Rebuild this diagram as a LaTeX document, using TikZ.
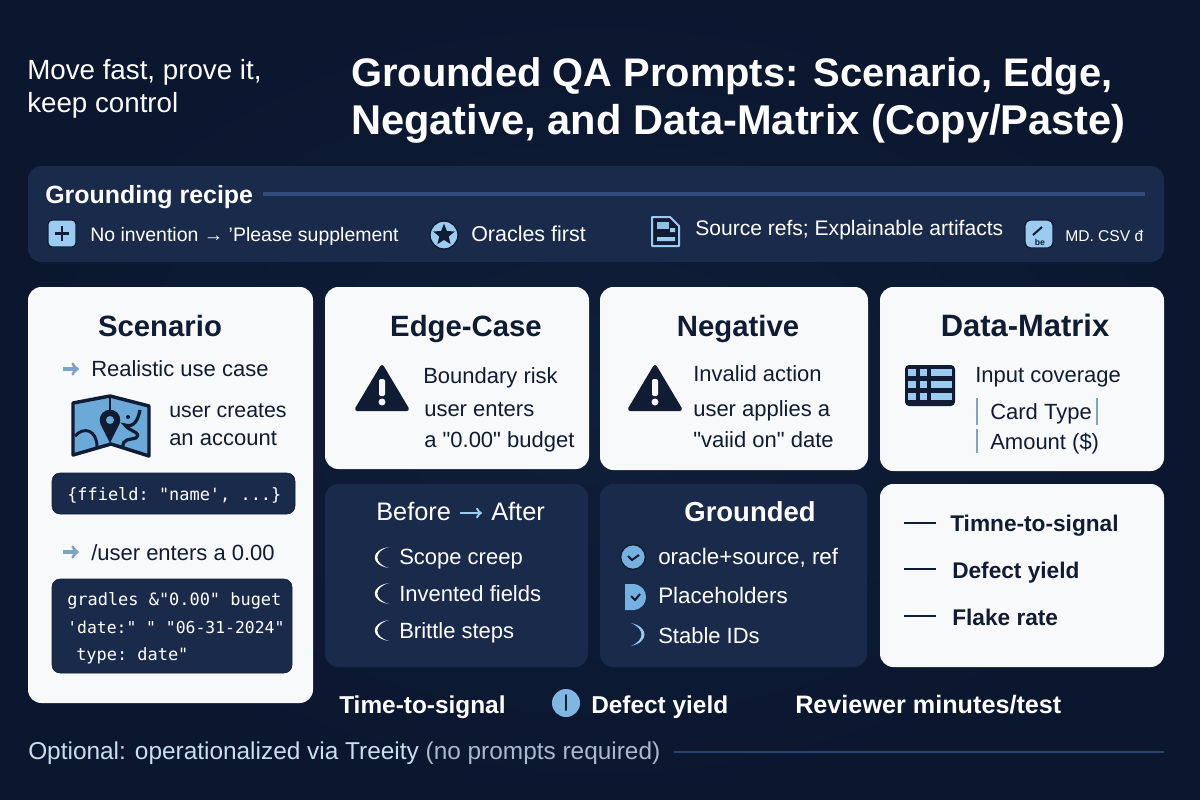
\documentclass[tikz,border=0pt]{standalone}
\usepackage{fontspec}
\setmainfont[Ligatures=TeXOff]{Liberation Sans}
\setmonofont{DejaVu Sans Mono}
\usetikzlibrary{shapes.geometric}
\definecolor{bgin}{HTML}{0F1E3A}
\definecolor{bgout}{HTML}{0B172F}
\definecolor{panel}{HTML}{1A2A4B}
\definecolor{cardwhite}{HTML}{F8F9FA}
\definecolor{ink}{HTML}{101C33}
\definecolor{sky}{HTML}{9CCBF2}
\definecolor{mapblue}{HTML}{6BA9D9}
\definecolor{steel}{HTML}{7FA3C7}
\definecolor{rule}{HTML}{2F4D7F}
\definecolor{faint}{HTML}{C9DFEC}
\definecolor{dimtxt}{HTML}{A9BACB}
\newcommand{\px}[1]{\fontsize{#1}{#1}\selectfont}
\tikzset{
  card/.style={fill=cardwhite, rounded corners=10pt},
  darkpanel/.style={fill=panel, rounded corners=10pt},
  codebox/.style={fill=panel, draw=ink, rounded corners=6pt},
  txt/.style={anchor=base west, inner sep=0pt, text=ink},
  lighttxt/.style={anchor=base west, inner sep=0pt, text=white},
  cardhead/.style={anchor=base, inner sep=0pt, text=ink, font=\px{22}\bfseries},
  body/.style={txt, font=\px{16.5}},
  lightbody/.style={lighttxt, font=\px{16.5}},
  code/.style={lighttxt, font=\px{12.7}\ttfamily},
  icon/.style={fill=sky, draw=ink, line width=1pt},
  arrowicon/.style={->, steel, line width=2.4pt},
  crescent/.style={fill=white},
  bar/.style={steel, line width=1.5pt},
  warn/.style={fill=ink, draw=ink, line width=3pt, line join=round},
  dashline/.style={ink, line width=1.3pt}
}
\begin{document}
\begin{tikzpicture}[x=0.75pt, y=-0.75pt]
  \useasboundingbox (0, 0) rectangle (1200, 800);
  \shade [inner color=bgin, outer color=bgout] (0, 0) rectangle (1200, 800);
  % header
  \node [lighttxt, font=\px{20.8}] (motto1) at (27, 79) {Move fast, prove it,};
  \node [lighttxt, font=\px{20.8}] (motto2) at (27, 112) {keep control};
  \node [lighttxt, font=\px{29.9}\bfseries] (title1) at (351, 86) {Grounded QA Prompts: Scenario, Edge,};
  \node [lighttxt, font=\px{31.2}\bfseries] (title2) at (351, 134) {Negative, and Data-Matrix (Copy/Paste)};
  % recipe
  \fill [darkpanel] (28, 166) rectangle (1164, 262);
  \node [lighttxt, font=\px{18.7}\bfseries] (recipe) at (45, 203) {Grounding recipe};
  \coordinate (recipeend) at (1145, 194);
  \draw [rule, line width=2.6pt] (recipe.east |- recipeend) ++(10, 0) -- (recipeend);
  \draw [icon, rounded corners=3pt] (48, 220) rectangle (76, 247);
  \draw [ink, line width=2pt] (62, 226) -- (62, 241) (55, 233.5) -- (69, 233.5);
  \node [lighttxt, font=\px{14.6}] (noinvent) at (90, 241) {No invention → ’Please supplement};
  \node [icon, circle, minimum size=21pt, inner sep=0pt] (staricon) at (444, 235) {};
  \node [star, star points=5, star point ratio=2.3, fill=ink, minimum size=17pt, inner sep=0pt] (starglyph) at (444, 235) {};
  \node [lighttxt, font=\px{16.1}] (oracles) at (471, 241) {Oracles first};
  \draw [fill=ink, draw=sky, line width=1.5pt, line join=round] (652, 217) -- (670, 217) -- (679, 226) -- (679, 246) -- (652, 246) -- cycle;
  \fill [sky!70!steel] (657, 222) rectangle (669, 229);
  \fill [sky] (657, 237) rectangle (675, 241) (670, 228) rectangle (675, 232);
  \node [lighttxt, font=\px{15.8}] (sources) at (695, 235) {Source refs; Explainable artifacts};
  \draw [icon, rounded corners=4pt] (1025, 220) rectangle (1053, 248);
  \draw [ink, line width=1.5pt] (1033, 235) -- (1042, 227);
  \node [anchor=base, inner sep=0pt, text=ink, font=\px{6.5}\bfseries] (beglyph) at (1040, 245) {be};
  \node [lighttxt, font=\px{11.7}] (formats) at (1065, 241) {MD. CSV \char"0111};
  % scenario column
  \fill [card] (28, 287) rectangle (313, 703);
  \node [cardhead] (scenario) at (160, 336) {Scenario};
  \draw [arrowicon] (63, 369) -- (79, 369);
  \node [body] (usecase) at (91, 376) {Realistic use case};
  \draw [fill=mapblue, draw=ink, line width=2.6pt, line join=round] (73, 403) -- (110, 396) -- (149, 406) -- (149, 456) -- (111, 444) -- (73, 455) -- cycle;
  \draw [ink, line width=1.5pt] (110, 396) -- (110, 412);
  \draw [ink, line width=2.2pt] (75, 436) .. controls (84, 426) and (97, 430) .. (97, 447);
  \draw [ink, line width=2.4pt] (140, 410) .. controls (138, 420) and (134, 428) .. (125, 425) .. controls (130, 432) and (142, 432) .. (136, 438) .. controls (130, 440) and (122, 438) .. (123, 448);
  \fill [ink] (110, 443) -- (100.5, 424) arc (157:383:10.3) -- cycle;
  \fill [mapblue] (110, 420) circle (3pt);
  \fill [ink] (128, 417) circle (1.5pt);
  \node [body, font=\px{16}] (creates1) at (169, 417) {user creates};
  \node [body] (creates2) at (169, 445) {an account};
  \draw [codebox] (52, 473) rectangle (295, 514);
  \node [code] (codefield) at (67, 500) {\{ffield: "name', ...\}};
  \draw [arrowicon] (63, 552) -- (79, 552);
  \node [body] (enters) at (91, 560) {/user enters a 0.00};
  \draw [codebox] (52, 579) rectangle (292, 673);
  \node [code] (gradles) at (67, 605) {gradles \&"0.00" buget};
  \node [code, font=\px{12.3}\ttfamily] (datekey) at (67, 633) {'date:" " "06-31-2024"};
  \node [code] (typekey) at (76, 660) {type: date"};
  % edge case
  \fill [card] (325, 287) rectangle (589, 469);
  \node [cardhead] (edgecase) at (466, 336) {Edge-Case};
  \draw [warn] (382, 367) -- (357, 409) -- (407, 409) -- cycle;
  \fill [cardwhite, rounded corners=1.5pt] (379, 379) rectangle (385, 396);
  \fill [cardwhite] (382, 402) circle (2.6pt);
  \node [body] (boundary) at (423, 383) {Boundary risk};
  \node [body] (edgeuser) at (424, 416) {user enters};
  \node [body] (edgebudget) at (424, 447) {a "0.00" budget};
  % negative
  \fill [card] (600, 287) rectangle (868, 470);
  \node [cardhead] (negative) at (738, 336) {Negative};
  \draw [warn] (655, 367) -- (630, 409) -- (680, 409) -- cycle;
  \fill [cardwhite, rounded corners=1.5pt] (652, 379) rectangle (658, 396);
  \fill [cardwhite] (655, 402) circle (2.6pt);
  \node [body] (invalid) at (693, 381) {Invalid action};
  \node [body] (neguser) at (693, 416) {user applies a};
  \node [body] (negdate) at (693, 447) {"vaiid on" date};
  % data matrix
  \fill [card] (880, 287) rectangle (1164, 471);
  \node [cardhead, font=\px{23.2}\bfseries] (datamatrix) at (1025, 336) {Data-Matrix};
  \fill [ink, rounded corners=3pt] (905, 365) rectangle (955, 406);
  \foreach \rowtop in {369, 381, 393} {
    \fill [sky] (908, \rowtop) rectangle (916, \rowtop + 7);
    \fill [sky] (920, \rowtop) rectangle (927, \rowtop + 7);
    \fill [sky] (931, \rowtop) rectangle (952, \rowtop + 7);
  }
  \node [body] (coverage) at (975, 382) {Input coverage};
  \draw [bar] (977, 398) -- (977, 425);
  \draw [bar] (1097, 398) -- (1097, 425);
  \draw [bar] (977, 429) -- (977, 453);
  \node [body] (cardtype) at (990, 419) {Card Type};
  \node [body] (amount) at (990, 449) {Amount (\$)};
  % before after
  \fill [darkpanel] (325, 484) rectangle (588, 667);
  \node [lighttxt, font=\px{19}] (before) at (376, 520) {Before};
  \node [lighttxt, font=\px{19}] (after) at (491, 520) {After};
  \draw [->, sky, line width=1.8pt] (before.east |- 0, 513) ++(9, 0) -- (482, 513);
  \foreach \archtop in {547, 583, 620} {
    \fill [crescent] (389, \archtop) .. controls (370, \archtop + 3) and (370, \archtop + 18) .. (389, \archtop + 21) .. controls (373.5, \archtop + 17) and (373.5, \archtop + 4) .. cycle;
  }
  \node [lightbody] (scope) at (399, 564) {Scope creep};
  \node [lightbody] (invented) at (399, 601) {Invented fields};
  \node [lightbody] (brittle) at (399, 638) {Brittle steps};
  % grounded
  \fill [darkpanel] (600, 484) rectangle (867, 667);
  \node [cardhead, text=white, font=\px{20.6}\bfseries] (grounded) at (750, 521) {Grounded};
  \node [icon, fill=mapblue!80!sky, circle, minimum size=18.5pt, inner sep=0pt] (oracleicon) at (633, 557) {};
  \draw [ink, line width=1.5pt] (628, 556) -- (632, 560) -- (639, 555);
  \node [lightbody, font=\px{16.8}] (oraclesrc) at (658, 564) {oracle+source, ref};
  \fill [mapblue!80!sky] (625, 584) -- (634, 584) .. controls (650, 586) and (650, 608) .. (634, 610) -- (625, 610) -- cycle;
  \draw [ink, line width=1.5pt] (631, 596) -- (635, 600) -- (640, 594);
  \node [lightbody, font=\px{16.8}] (holders) at (658, 603) {Placeholders};
  \fill [sky] (631, 623) .. controls (649, 627) and (649, 642) .. (631, 646) .. controls (645, 640) and (645, 629) .. cycle;
  \node [lightbody] (stable) at (658, 643) {Stable IDs};
  % metrics
  \fill [card] (880, 484) rectangle (1164, 667);
  \coordinate (dash1) at (904, 523);
  \coordinate (dash2) at (904, 569);
  \coordinate (dash3) at (904, 616);
  \node [txt, font=\px{17}\bfseries] (timne) at (950, 531) {Timne-to-signal};
  \node [txt, font=\px{17}\bfseries] (yieldcard) at (952, 578) {Defect yield};
  \node [txt, font=\px{17}\bfseries] (flake) at (952, 625) {Flake rate};
  \draw [dashline] (dash1) -- +(32, 0);
  \draw [dashline] (dash2) -- +(32, 0);
  \draw [dashline] (dash3) -- +(32, 0);
  % bottom row
  \node [lighttxt, font=\px{18.3}\bfseries] (signal) at (339, 713) {Time-to-signal};
  \node [circle, fill=mapblue!60!sky, minimum size=21pt, inner sep=0pt] (clockicon) at (566, 703) {};
  \draw [ink, line width=1.5pt, line cap=round] (566, 695) -- (566, 710);
  \node [lighttxt, font=\px{18.3}\bfseries] (yield) at (591, 713) {Defect yield};
  \node [lighttxt, font=\px{18.9}\bfseries] (reviewer) at (795, 713) {Reviewer minutes/test};
  \node [lighttxt, text=faint, font=\px{18.3}] (optional) at (28, 759) {Optional: operationalized via Treeity {\color{dimtxt}(no prompts required)}};
  \coordinate (optionalend) at (1164, 752);
  \draw [rule!70!panel, line width=2pt] (optional.east |- optionalend) ++(13, 0) -- (optionalend);
\end{tikzpicture}
\end{document}
